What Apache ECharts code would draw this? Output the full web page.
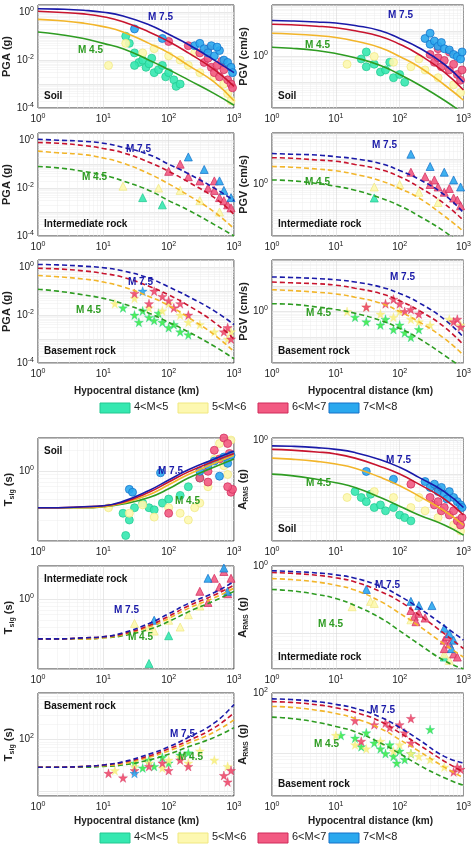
<!DOCTYPE html>
<html><head><meta charset="utf-8">
<script src="https://cdn.jsdelivr.net/npm/echarts@6/dist/echarts.min.js"></script>
<style>html,body{margin:0;padding:0;background:#fff}#main{width:474px;height:852px}</style>
</head><body><div id="main"></div>
<script>
// distances the model curves are sampled at (km)
var XS = [1,2,5,10,20,50,100,200,500,1000];

// model curves per panel: [green M4.5, yellow, red, blue M7.5]
var pgaSoilCurves = [
  [0.15,0.12,0.08,0.05,0.03,0.01,0.004,0.0015,0.0004,0.00013],
  [0.5,0.45,0.35,0.25,0.15,0.05,0.02,0.006,0.0012,0.0002],
  [1.1,1.0,0.85,0.65,0.4,0.15,0.06,0.02,0.004,0.0008],
  [1.4,1.35,1.2,1.0,0.7,0.3,0.12,0.045,0.01,0.003]];
var pgvSoilCurves = [
  [2.3,2.1,1.7,1.3,0.9,0.45,0.2,0.08,0.02,0.006],
  [8,7.5,6.5,5.5,4,2.2,1,0.4,0.08,0.02],
  [18,17,15,13,10,6,3,1.2,0.25,0.05],
  [25,24,22,20,16,10,5,2.2,0.5,0.1]];
var pgaIntCurves = [
  [0.08,0.07,0.05,0.035,0.02,0.008,0.003,0.0012,0.0003,0.0001],
  [0.35,0.3,0.25,0.18,0.11,0.04,0.015,0.005,0.001,0.0002],
  [0.8,0.75,0.6,0.45,0.3,0.12,0.05,0.018,0.004,0.0008],
  [1.1,1.0,0.9,0.75,0.5,0.25,0.1,0.04,0.01,0.003]];
var pgvIntCurves = [
  [1.5,1.4,1.1,0.85,0.6,0.3,0.15,0.06,0.015,0.004],
  [5,4.7,4,3.4,2.5,1.4,0.7,0.3,0.06,0.015],
  [11,10.5,9,8,6,3.8,2,0.8,0.18,0.04],
  [16,15,14,12,10,6.5,3.5,1.6,0.4,0.08]];
var pgaBasCurves = [
  [0.12,0.1,0.07,0.05,0.03,0.012,0.005,0.002,0.0005,0.00015],
  [0.45,0.4,0.32,0.24,0.15,0.06,0.025,0.008,0.0015,0.0003],
  [0.9,0.85,0.7,0.55,0.38,0.16,0.07,0.025,0.005,0.001],
  [1.3,1.25,1.1,0.95,0.7,0.35,0.15,0.06,0.015,0.004]];
var pgvBasCurves = [
  [2,1.9,1.5,1.2,0.85,0.45,0.22,0.09,0.02,0.006],
  [7,6.5,5.6,4.8,3.6,2.1,1,0.4,0.09,0.02],
  [14,13,12,10.5,8,5,2.6,1.1,0.25,0.05],
  [22,21,19,17,14,9,5,2.2,0.5,0.1]];
var tsigSoilCurves = [
  [0.3,0.3,0.3,0.31,0.34,0.42,0.56,0.8,1.15,1.5],
  [0.3,0.3,0.3,0.31,0.35,0.46,0.64,0.9,1.3,1.7],
  [0.3,0.3,0.31,0.32,0.36,0.5,0.7,0.98,1.4,1.8],
  [0.3,0.3,0.31,0.32,0.37,0.53,0.75,1.05,1.5,1.95]];
var tsigIntCurves = [
  [0.27,0.27,0.27,0.28,0.3,0.37,0.48,0.66,0.95,1.3],
  [0.27,0.27,0.27,0.28,0.31,0.4,0.53,0.74,1.05,1.45],
  [0.27,0.27,0.28,0.29,0.32,0.42,0.57,0.8,1.15,1.6],
  [0.27,0.27,0.28,0.29,0.33,0.45,0.62,0.87,1.25,1.8]];
var tsigBasCurves = [
  [29,29,29,30,32,40,52,72,110,170],
  [29,29,30,31,34,45,60,85,140,240],
  [29,29,30,32,36,48,66,95,170,330],
  [29,29,30,32,37,52,72,110,210,480]];
var armsSoilCurves = [
  [0.1,0.09,0.07,0.055,0.04,0.02,0.011,0.006,0.003,0.0015],
  [0.3,0.28,0.24,0.2,0.15,0.08,0.045,0.022,0.008,0.003],
  [0.55,0.52,0.46,0.4,0.3,0.17,0.1,0.05,0.018,0.006],
  [0.7,0.68,0.62,0.55,0.44,0.27,0.16,0.08,0.03,0.01]];
var armsIntCurves = [
  [0.45,0.43,0.38,0.33,0.26,0.17,0.11,0.07,0.04,0.03],
  [0.65,0.63,0.58,0.52,0.44,0.3,0.2,0.13,0.07,0.045],
  [0.8,0.78,0.73,0.67,0.58,0.42,0.3,0.19,0.1,0.06],
  [0.85,0.83,0.79,0.74,0.66,0.5,0.36,0.24,0.13,0.08]];
var armsBasCurves = [
  [40,38,33,28,23,15,10,6.5,4,3],
  [60,58,52,46,38,26,17,11,6,4],
  [72,70,64,57,48,34,22,14,7.5,5],
  [80,78,72,65,56,40,27,17,9,7]];

// observed records per panel: [4<M<5, 5<M<6, 6<M<7, 7<M<8] as [distance km, value]
var pgaSoilPts = [
  [[25,0.05],[30,0.02],[35,0.008],[40,0.01],[45,0.005],[50,0.007],[60,0.003],[70,0.004],[80,0.006],[90,0.002],[100,0.003],[120,0.0015],[130,0.0008],[150,0.001],[30,0.006],[55,0.012],[22,0.1]],
  [[12,0.006],[22,0.05],[40,0.02],[60,0.03],[100,0.015],[150,0.01],[200,0.006],[300,0.003],[500,0.002],[800,0.0004],[900,0.0002],[250,0.02],[700,0.001]],
  [[100,0.06],[200,0.04],[300,0.02],[350,0.008],[400,0.012],[450,0.005],[500,0.003],[550,0.006],[600,0.002],[700,0.004],[800,0.0015],[900,0.001],[950,0.0007],[400,0.03],[650,0.009]],
  [[30,0.2],[80,0.08],[250,0.04],[300,0.05],[350,0.03],[400,0.02],[450,0.04],[500,0.015],[600,0.025],[700,0.01],[800,0.008],[900,0.005],[950,0.003],[550,0.035]]];
var pgvSoilPts = [
  [[25,0.8],[30,0.4],[40,0.5],[50,0.25],[60,0.3],[80,0.15],[100,0.2],[120,0.1],[30,1.5],[70,0.6]],
  [[15,0.5],[40,1],[80,0.6],[150,0.4],[250,0.3],[400,0.15],[700,0.08],[900,0.04],[200,0.8]],
  [[300,1.2],[350,0.6],[400,0.9],[450,0.4],[500,0.7],[600,0.3],[700,0.5],[800,0.2],[900,0.12],[950,0.3],[400,2],[600,1.5]],
  [[250,5],[300,3],[350,4],[400,2.5],[450,3.5],[500,2],[600,1.8],[700,1.2],[800,1],[900,0.8],[950,1.5],[300,8]]];
var pgaIntPts = [
  [[40,0.004],[80,0.002]],
  [[20,0.012],[70,0.01],[150,0.008],[300,0.003],[600,0.001]],
  [[100,0.05],[150,0.1],[200,0.03],[300,0.02],[400,0.01],[500,0.008],[600,0.004],[700,0.003],[800,0.002],[900,0.0015],[500,0.02]],
  [[200,0.2],[350,0.06],[600,0.02],[700,0.008],[900,0.004]]];
var pgvIntPts = [
  [[40,0.3]],
  [[40,0.8],[100,1],[200,0.5],[400,0.2]],
  [[150,3],[250,2],[300,1],[400,0.8],[500,0.5],[600,0.7],[700,0.3],[800,0.25],[900,0.15],[350,1.5]],
  [[150,15],[300,5],[500,3],[700,1.5],[900,0.8]]];
var pgaBasPts = [
  [[20,0.02],[30,0.01],[40,0.015],[50,0.008],[60,0.006],[80,0.005],[100,0.003],[120,0.004],[150,0.002],[200,0.0015],[35,0.005],[70,0.012]],
  [[15,0.03],[30,0.05],[50,0.02],[80,0.015],[100,0.03],[150,0.01],[200,0.005],[300,0.004],[500,0.002],[800,0.001],[900,0.002]],
  [[30,0.08],[60,0.1],[80,0.06],[100,0.04],[120,0.02],[150,0.03],[200,0.01],[700,0.002],[800,0.003],[900,0.001],[50,0.03]],
  [[40,0.1]]];
var pgvBasPts = [
  [[20,0.6],[30,0.4],[50,0.3],[60,0.5],[80,0.2],[100,0.3],[120,0.15],[150,0.1],[200,0.2]],
  [[15,1],[30,1.5],[50,0.8],[80,0.6],[100,1],[150,0.5],[200,0.4],[300,0.3],[600,0.5],[900,0.3]],
  [[30,1.5],[60,2],[80,3],[100,2],[120,1],[150,1.2],[200,0.8],[700,0.4],[800,0.5],[900,0.25]],
  []];
var tsigSoilPts = [
  [[20,0.25],[25,0.2],[30,0.3],[40,0.35],[50,0.3],[60,0.28],[80,0.35],[100,0.4],[150,0.45],[200,0.6],[300,0.8],[22,0.12]],
  [[12,0.3],[25,0.25],[40,0.33],[60,0.22],[100,0.3],[150,0.25],[200,0.2],[300,0.35],[400,0.6],[500,1.5],[600,2.5],[700,1.2],[800,0.9],[900,2.8],[250,0.3]],
  [[100,0.25],[300,0.8],[400,1],[500,2],[600,1.5],[700,3],[800,2.5],[900,0.5],[950,0.55],[800,0.6],[400,0.7],[850,1.8]],
  [[25,0.55],[28,0.5],[75,0.95],[300,1],[400,1.2],[500,1.4],[600,0.85],[700,1.6],[800,1.3],[900,1.7]]];
var tsigIntPts = [
  [[50,0.12],[100,0.3]],
  [[30,0.45],[50,0.4],[60,0.35],[100,0.5],[150,0.4],[200,0.6],[300,0.8]],
  [[300,1.3],[400,0.9],[500,2],[600,1.5],[700,2.5],[800,1.2],[900,2]],
  [[60,0.5],[400,2],[700,2.8],[800,1.3]]];
var tsigBasPts = [
  [[30,35],[50,40],[80,45],[100,35],[150,50],[200,55],[60,30],[40,28]],
  [[15,25],[30,30],[50,35],[80,28],[100,40],[150,45],[200,35],[300,60],[500,40],[800,30]],
  [[12,22],[20,18],[30,25],[50,30],[80,35],[100,25],[150,40],[200,30],[700,20],[800,15],[900,25]],
  [[30,22]]];
var armsSoilPts = [
  [[20,0.03],[25,0.02],[30,0.015],[40,0.01],[50,0.012],[60,0.008],[80,0.01],[100,0.006],[120,0.005],[150,0.004],[35,0.025]],
  [[15,0.02],[40,0.03],[80,0.02],[150,0.01],[250,0.008],[400,0.005],[700,0.003],[900,0.002],[200,0.02]],
  [[150,0.05],[300,0.02],[350,0.012],[400,0.015],[450,0.008],[500,0.01],[600,0.006],[700,0.008],[800,0.004],[900,0.003],[950,0.005],[400,0.035]],
  [[30,0.12],[80,0.07],[250,0.06],[300,0.04],[350,0.05],[400,0.03],[450,0.04],[500,0.025],[600,0.03],[700,0.02],[800,0.015],[900,0.012],[950,0.01],[550,0.018]]];
var armsIntPts = [
  [[500,0.045]],
  [[18,0.25],[35,0.3],[40,0.28],[150,0.16],[500,0.05],[600,0.04]],
  [[150,0.22],[170,0.18],[200,0.2],[250,0.17],[180,0.15],[500,0.08],[600,0.07],[700,0.05],[800,0.045],[500,0.06],[550,0.09]],
  [[30,0.45],[150,0.3],[200,0.26],[320,0.26],[500,0.12],[600,0.1],[700,0.08],[650,0.06]]];
var armsBasPts = [
  [[12,20],[20,18],[30,22],[40,15],[50,12],[60,10],[70,14],[80,9],[100,11],[120,8],[150,10],[300,25],[25,13],[90,7]],
  [[10,20],[20,14],[30,12],[50,16],[80,11],[100,14],[150,10],[200,9],[300,8],[500,6]],
  [[20,35],[25,16],[40,30],[60,32],[70,27],[100,30],[120,22],[150,38],[150,15],[700,5],[800,6],[900,5.5]],
  []];

var classNames = ['4<M<5','5<M<6','6<M<7','7<M<8'];
var fillCols = ['#35e8b0','#fdf8b0','#f25a82','#2aa8ee'];
var edgeCols = ['#22c890','#f0e880','#d02a5a','#1470c8'];
var starCols = ['#3cec4a','#f8f080','#f04a6a','#2aa8ee'];
var lineCols = ['#2e9c22','#f2b52a','#c8142e','#1a1aa8'];
var STAR = 'path://M50,0L61,35L98,35L68,57L79,91L50,70L21,91L32,57L2,35L39,35Z';

var L = 38, R = 272, W = 196, H = 103;
var panels = [
  {top:5,left:L,name:'PGA (g)',min:1e-4,max:2,lab:[-4,-2,0],c:pgaSoilCurves,p:pgaSoilPts,sym:'circle',dash:false,site:'Soil',siteY:'bottom',m75:[148,12],m45:[78,45]},
  {top:5,left:R,name:'PGV (cm/s)',min:0.01,max:100,lab:[0],c:pgvSoilCurves,p:pgvSoilPts,sym:'circle',dash:false,site:'Soil',siteY:'bottom',m75:[388,10],m45:[305,40]},
  {top:133,left:L,name:'PGA (g)',min:1e-4,max:2,lab:[-4,-2,0],c:pgaIntCurves,p:pgaIntPts,sym:'triangle',dash:true,site:'Intermediate rock',siteY:'bottom',m75:[126,144],m45:[82,172]},
  {top:133,left:R,name:'PGV (cm/s)',min:0.01,max:100,lab:[0],c:pgvIntCurves,p:pgvIntPts,sym:'triangle',dash:true,site:'Intermediate rock',siteY:'bottom',m75:[372,140],m45:[305,177]},
  {top:260,left:L,name:'PGA (g)',min:1e-4,max:2,lab:[-4,-2,0],c:pgaBasCurves,p:pgaBasPts,sym:STAR,dash:true,site:'Basement rock',siteY:'bottom',m75:[128,277],m45:[76,305]},
  {top:260,left:R,name:'PGV (cm/s)',min:0.01,max:100,lab:[0],c:pgvBasCurves,p:pgvBasPts,sym:STAR,dash:true,site:'Basement rock',siteY:'bottom',m75:[390,272],m45:[306,308]},
  {top:438,left:L,name:'T{sub|sig} (s)',min:0.1,max:3,lab:[0],c:tsigSoilCurves,p:tsigSoilPts,sym:'circle',dash:false,site:'Soil',siteY:'top',m75:[158,466],m45:[175,496]},
  {top:438,left:R,name:'A{sub|RMS} (g)',min:1e-3,max:1.2,lab:[0],c:armsSoilCurves,p:armsSoilPts,sym:'circle',dash:false,site:'Soil',siteY:'bottom',m75:[386,455],m45:[306,478]},
  {top:566,left:L,name:'T{sub|sig} (s)',min:0.1,max:3,lab:[0],c:tsigIntCurves,p:tsigIntPts,sym:'triangle',dash:true,site:'Intermediate rock',siteY:'top',m75:[114,605],m45:[128,632]},
  {top:566,left:R,name:'A{sub|RMS} (g)',min:0.03,max:1,lab:[0],c:armsIntCurves,p:armsIntPts,sym:'triangle',dash:true,site:'Intermediate rock',siteY:'bottom',m75:[375,580],m45:[318,619]},
  {top:693,left:L,name:'T{sub|sig} (s)',min:8,max:800,lab:[2],c:tsigBasCurves,p:tsigBasPts,sym:STAR,dash:true,site:'Basement rock',siteY:'top',m75:[170,729],m45:[178,752]},
  {top:693,left:R,name:'A{sub|RMS} (g)',min:2,max:100,lab:[2],c:armsBasCurves,p:armsBasPts,sym:STAR,dash:true,site:'Basement rock',siteY:'bottom',m75:[370,705],m45:[314,739]}
];

var sup = {sup:{fontSize:7,verticalAlign:'top',padding:[0,0,6,0],color:'#222'},base:{fontSize:10,color:'#222'}};
function powLabel(v){
  var e = Math.round(Math.log10(v));
  return '{base|10}{sup|' + e + '}';
}

var grids = [], xAxes = [], yAxes = [], series = [], graphics = [];
panels.forEach(function(p, i){
  grids.push({left:p.left, top:p.top, width:W, height:H, show:true, borderColor:'#333', borderWidth:1, backgroundColor:'#fff'});
  xAxes.push({type:'log', gridIndex:i, min:1, max:1000, logBase:10,
    axisLine:{show:false}, axisTick:{show:false},
    axisLabel:{formatter:powLabel, rich:sup, margin:5},
    splitLine:{show:true, lineStyle:{color:'#d8d8d8', width:0.6}},
    minorTick:{show:false, splitNumber:9}, minorSplitLine:{show:true, lineStyle:{color:'#ececec', width:0.5}}});
  var labs = p.lab;
  yAxes.push({type:'log', gridIndex:i, min:p.min, max:p.max, logBase:10,
    name:p.name, nameLocation:'middle', nameGap:22,
    nameTextStyle:{fontWeight:'bold', fontSize:11, color:'#222', rich:{sub:{fontSize:7, fontWeight:'bold', verticalAlign:'bottom', padding:[6,0,0,0]}}},
    axisLine:{show:false}, axisTick:{show:false},
    axisLabel:{showMinLabel:true, showMaxLabel:true, rich:sup, margin:4, formatter:function(v){
      var e = Math.round(Math.log10(v));
      if (Math.abs(Math.log10(v) - e) > 0.01 || labs.indexOf(e) < 0) return '';
      return powLabel(v);
    }},
    splitLine:{show:true, lineStyle:{color:'#d8d8d8', width:0.6}},
    minorTick:{show:false, splitNumber:9}, minorSplitLine:{show:true, lineStyle:{color:'#ececec', width:0.5}}});
  p.p.forEach(function(pts, k){
    var star = p.sym === STAR;
    series.push({type:'scatter', xAxisIndex:i, yAxisIndex:i, data:pts, symbol:p.sym,
      symbolSize: star ? 9 : 8,
      itemStyle:{color:star ? starCols[k] : fillCols[k], borderColor:edgeCols[k], borderWidth:star ? 0.4 : 0.8, opacity:0.9}, z:2});
  });
  p.c.forEach(function(vals, k){
    series.push({type:'line', xAxisIndex:i, yAxisIndex:i, smooth:true, symbol:'none',
      data:XS.map(function(x, j){ return [x, vals[j]]; }),
      lineStyle:{color:lineCols[k], width:1.6, type:p.dash ? [5,3] : 'solid'}, z:3});
  });
  var sy = p.siteY === 'top' ? p.top + 8 : p.top + H - 17;
  graphics.push({type:'text', left:p.left + 6, top:sy, z:10, style:{text:p.site, font:'bold 10px Arial', fill:'#111'}});
  graphics.push({type:'text', left:p.m75[0], top:p.m75[1], z:10, style:{text:'M 7.5', font:'bold 10px Arial', fill:'#1a1aa8'}});
  graphics.push({type:'text', left:p.m45[0], top:p.m45[1], z:10, style:{text:'M 4.5', font:'bold 10px Arial', fill:'#2e9c22'}});
});

// x axis titles and legends
[[392, 408], [822, 838]].forEach(function(r){
  graphics.push({type:'text', left:L + W/2 - 62, top:r[0] - 6, style:{text:'Hypocentral distance (km)', font:'bold 10px Arial', fill:'#222'}});
  graphics.push({type:'text', left:R + W/2 - 62, top:r[0] - 6, style:{text:'Hypocentral distance (km)', font:'bold 10px Arial', fill:'#222'}});
  var xs = [100, 178, 258, 329];
  classNames.forEach(function(n, k){
    graphics.push({type:'rect', shape:{x:xs[k], y:r[1] - 5, width:30, height:10}, style:{fill:fillCols[k], stroke:edgeCols[k], lineWidth:1}});
    graphics.push({type:'text', left:xs[k] + 34, top:r[1] - 7, style:{text:n, font:'11px Arial', fill:'#222'}});
  });
});

var chart = echarts.init(document.getElementById('main'));
chart.setOption({
  animation:false,
  grid:grids, xAxis:xAxes, yAxis:yAxes, series:series, graphic:graphics
});
</script>
</body></html>
